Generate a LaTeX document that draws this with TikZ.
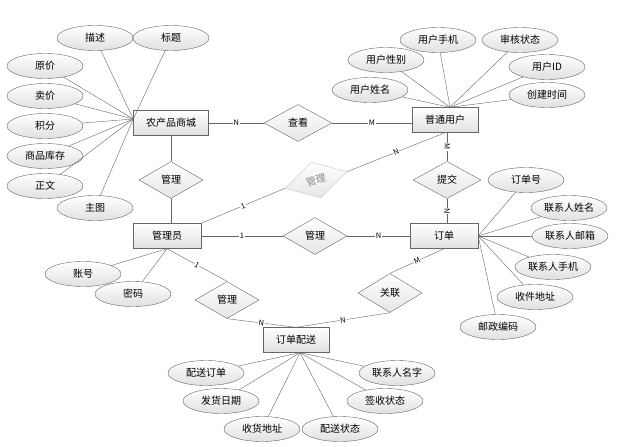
\documentclass[tikz,border=0pt]{standalone}
\usepackage{fontspec}
\setmainfont{Noto Sans CJK SC}
\usetikzlibrary{shapes.geometric}

\begin{document}
\begin{tikzpicture}[x=1pt,y=-1pt,font=\fontsize{10}{12}\selectfont,
   entity/.style={rectangle,draw=black!60,top color=white,bottom color=black!12,
      minimum width=68pt,minimum height=25pt,inner sep=0pt},
   attr/.style={ellipse,draw=black!60,top color=white,bottom color=black!12,
      minimum width=76pt,minimum height=25pt,inner sep=0pt},
   rel/.style={diamond,draw=black!60,top color=white,bottom color=black!10,
      minimum width=64pt,minimum height=37pt,inner sep=0pt},
   ghost/.style={rel,draw=black!22,text=black!45,rotate=15},
   link/.style={draw=black!60},
   card/.style={midway,sloped,fill=white,inner sep=0.6pt,font=\fontsize{7.5}{8}\selectfont}]
   \useasboundingbox (0,0) rectangle (621,447);
% Entities
   \node [entity,minimum width=75pt] (shop)  at (171,123) {农产品商城};
   \node [entity,minimum width=66pt] (user)  at (445,120) {普通用户};
   \node [entity]                    (admin) at (167,236) {管理员};
   \node [entity]                    (order) at (444,236) {订单};
   \node [entity,minimum width=66pt] (ship)  at (296,340) {订单配送};
% Relations
   \node [rel]                    (mshop)  at (171,180) {管理};
   \node [rel,minimum width=68pt] (view)   at (298,123) {查看};
   \node [ghost]                  (muser)  at (316,180) {管理};
   \node [rel,minimum width=68pt] (submit) at (447,180) {提交};
   \node [rel]                    (morder) at (315,236) {管理};
   \node [rel]                    (mship)  at (227,300) {管理};
   \node [rel,minimum height=39pt] (assoc) at (390,293) {关联};
% Attributes of the shop
   \node [attr] (desc)   at (95,38)  {描述};
   \node [attr] (title)  at (171,38) {标题};
   \node [attr] (oprice) at (45,66)  {原价};
   \node [attr] (sprice) at (45,96)  {卖价};
   \node [attr] (points) at (45,126) {积分};
   \node [attr] (stock)  at (45,156) {商品库存};
   \node [attr] (body)   at (45,186) {正文};
   \node [attr] (pic)    at (95,208) {主图};
% Attributes of the user
   \node [attr] (uname)  at (370,90) {用户姓名};
   \node [attr] (usex)   at (386,60) {用户性别};
   \node [attr] (uphone) at (438,40) {用户手机};
   \node [attr] (ustate) at (520,40) {审核状态};
   \node [attr] (uid)    at (547,67) {用户ID};
   \node [attr] (utime)  at (547,95) {创建时间};
% Attributes of the order
   \node [attr] (ono)    at (526,180) {订单号};
   \node [attr] (oname)  at (569,208) {联系人姓名};
   \node [attr] (omail)  at (570,236) {联系人邮箱};
   \node [attr] (ophone) at (553,267) {联系人手机};
   \node [attr] (oaddr)  at (535,297) {收件地址};
   \node [attr] (ozip)   at (498,327) {邮政编码};
% Attributes of the shipment
   \node [attr] (sorder) at (206,373) {配送订单};
   \node [attr] (sdate)  at (221,401) {发货日期};
   \node [attr] (saddr)  at (262,429) {收货地址};
   \node [attr] (sstate) at (340,429) {配送状态};
   \node [attr] (ssign)  at (385,401) {签收状态};
   \node [attr] (sname)  at (397,373) {联系人名字};
% Attributes of the admin
   \node [attr] (acc) at (83,274)  {账号};
   \node [attr] (pwd) at (133,294) {密码};
% Attribute links
   \coordinate (shopw) at ([yshift=4pt]shop.west);
   \coordinate (usern) at ([xshift=5pt]user.north);
   \coordinate (ships) at ([xshift=4pt]ship.south);
   \foreach \a in {desc,title,oprice,sprice,points,stock,body,pic}
      \draw [link] (shopw) -- (\a);
   \foreach \a in {uname,usex,uphone,ustate,uid,utime}
      \draw [link] (usern) -- (\a);
   \foreach \a in {ono,oname,omail,ophone,oaddr,ozip}
      \draw [link] (order.east) -- (\a);
   \foreach \a in {sorder,sdate,saddr,sstate,ssign,sname}
      \draw [link] (ships) -- (\a);
   \foreach \a in {acc,pwd}
      \draw [link] (admin.south) -- (\a);
% Relation links
   \draw [link] (shop) -- node [card] {N} (view);
   \draw [link] (view.east) -- node [card] {M} (view.east -| user.west);
   \draw [link] (shop) -- (mshop);
   \draw [link] (mshop.south) -- (mshop.south |- admin.north);
   \draw [link] (admin.north east) -- node [card] {1} (muser.west);
   \draw [link] (muser.east) -- node [card] {N} (user.south);
   \draw [link] (submit.north |- user.south) -- node [card] {M} (submit.north);
   \draw [link] (submit.south) -- node [card] {N} (submit.south |- order.north);
   \draw [link] (admin) -- node [card] {1} (morder);
   \draw [link] (morder) -- node [card] {N} (order);
   \draw [link] (admin.south) -- node [card] {1} (mship.north);
   \draw [link] (mship.south) -- node [card] {N} (ship.north);
   \draw [link] (assoc.south) -- node [card] {N} (ship.north);
   \draw [link] (assoc.north) -- node [card] {M} (order.south);
\end{tikzpicture}
\end{document}
